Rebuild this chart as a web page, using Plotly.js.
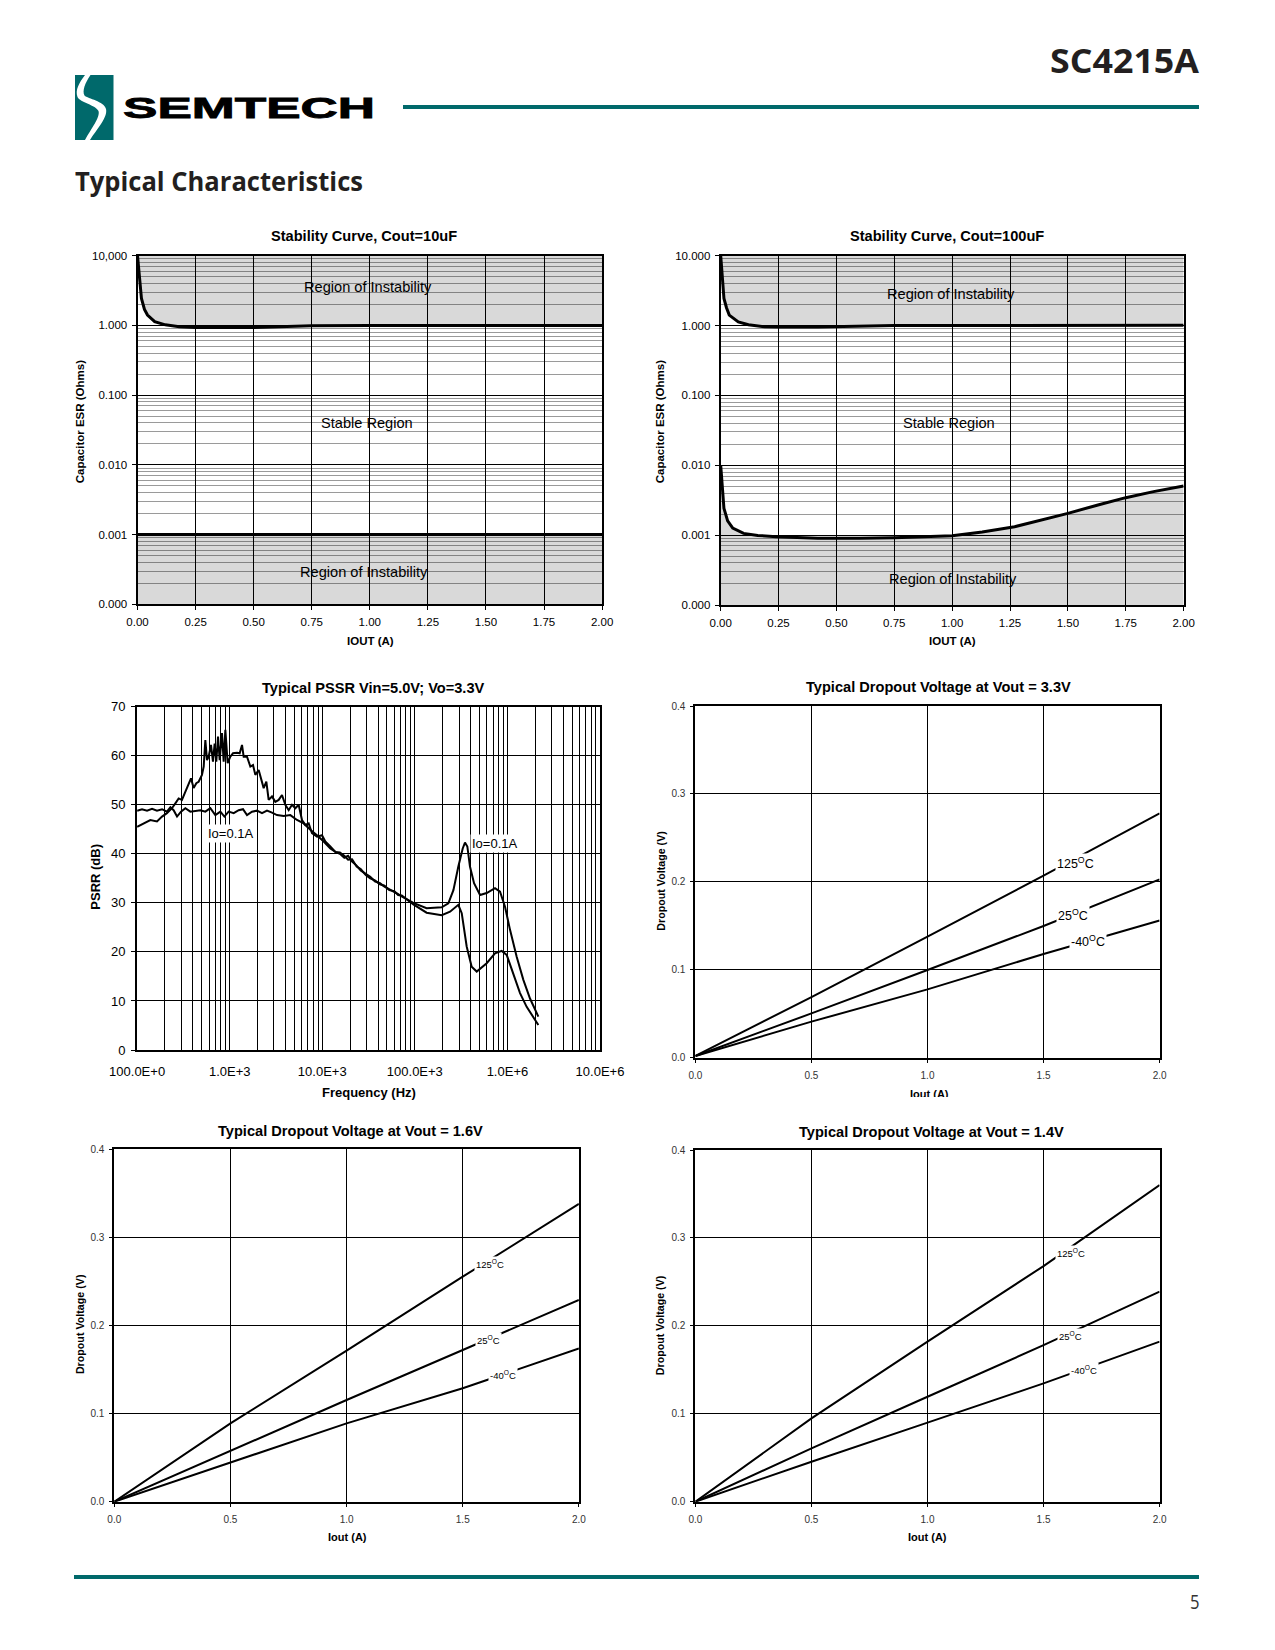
<!DOCTYPE html>
<html><head><meta charset="utf-8">
<script src="https://cdn.plot.ly/plotly-3.0.1.min.js"></script>
<style>
html,body{margin:0;padding:0;background:#fff;}
#page{position:relative;width:1275px;height:1650px;overflow:hidden;background:#fff;}
#chart{position:absolute;left:0;top:0;width:1275px;height:1650px;z-index:1;}
.hdr{position:absolute;white-space:nowrap;transform-origin:0 0;line-height:1;z-index:3;}
.bar{position:absolute;background:#00696b;z-index:3;}
#logo{position:absolute;left:75px;top:75px;z-index:3;}
#clip{position:absolute;left:880px;top:1096.5px;width:100px;height:14px;background:#fff;z-index:2;}
</style></head>
<body><div id="page">
<div id="chart"></div>
<svg id="logo" width="39" height="65" viewBox="0 0 39 65">
  <rect x="0" y="0" width="38.5" height="65" fill="#00696b"/>
  <path d="M10,0 C4,8 0,15 2.5,22 C5,27.5 21,30 23.5,36 C25.5,42 16,54 10,65 L15,65 C22,54 33,42 31,34 C29,26 13,24 9.5,20.5 C7,16 10,8 15.5,0 Z" fill="#fff"/>
</svg>
<div class="hdr" id="semtech" style="font-family:'Liberation Sans',Arial,sans-serif;font-weight:bold;font-size:30px;color:#000;-webkit-text-stroke:0.8px #000;">SEMTECH</div>
<div class="hdr" id="partno" style="font-family:'Open Sans',sans-serif;font-weight:bold;font-size:34px;color:#231f20;">SC4215A</div>
<div class="hdr" id="section" style="font-family:'Open Sans',sans-serif;font-weight:bold;font-size:27px;color:#231f20;">Typical Characteristics</div>
<div class="hdr" id="pageno" style="font-family:'Open Sans',sans-serif;font-size:19.5px;color:#333;">5</div>
<div class="bar" style="left:403px;top:105px;width:796px;height:4px;"></div>
<div class="bar" style="left:74px;top:1575px;width:1125px;height:4px;"></div>
<div id="clip"></div>
</div>
<script>
// ---------------- DATA ----------------
// Stability curve, Cout = 10uF
const iout10Upper = [0, 0.008, 0.017, 0.03, 0.043, 0.074, 0.12, 0.18, 0.25, 0.5, 0.75, 1.0, 1.5, 2.0];
const esr10Upper  = [10, 5, 2.44, 1.7, 1.41, 1.13, 1.02, 0.96, 0.93, 0.93, 0.99, 1.0, 1.0, 1.0];
const iout10Lower = [0, 2.0];
const esr10Lower  = [0.001, 0.001];
// Stability curve, Cout = 100uF
const iout100Upper = [0, 0.007, 0.014, 0.025, 0.037, 0.076, 0.12, 0.19, 0.25, 0.42, 0.6, 0.75, 1.0, 1.5, 2.0];
const esr100Upper  = [10, 5, 2.45, 1.8, 1.41, 1.13, 1.03, 0.96, 0.95, 0.95, 0.97, 1.0, 1.0, 1.01, 1.01];
const iout100Lower = [0, 0.007, 0.014, 0.03, 0.052, 0.099, 0.16, 0.24, 0.42, 0.6, 0.75, 1.0, 1.13, 1.27, 1.5, 1.63, 1.75, 1.87, 2.0];
const esr100Lower  = [0.01, 0.0045, 0.00242, 0.0016, 0.00126, 0.00106, 0.00099, 0.00095, 0.0009, 0.0009, 0.00092, 0.00098, 0.00111, 0.00132, 0.00205, 0.0027, 0.00344, 0.0042, 0.00505];
const esrTickVals = [1e-4, 1e-3, 1e-2, 1e-1, 1, 10];
const esrTickText10  = ['0.000', '0.001', '0.010', '0.100', '1.000', '10,000'];
const esrTickText100 = ['0.000', '0.001', '0.010', '0.100', '1.000', '10.000'];

// PSSR, Vin=5.0V, Vo=3.3V
const pssrFreqA = [100,118,139,164,186,210,238,259,281,305,332,361,382,408,436,462,502,524,546,569,593,628,660,688,717,748,780,826,861,898,951,1016,1086,1200,1282,1359,1416,1539,1672,1786,1893,2057,2180,2329,2488,2637,2865,3112,3383,3674,3992,4338,4711,5118,5560,6040,6563,7132,7747,8772,9933,10792,12223,13847,
  15500,17300,19000,21000,23500,26000,29500,33000,37000,42000,47000,53000,60000,66000,72100,
  96300,134000,195000,230000,261000,295000,329000,348000,369000,394000,436000,506000,597000,734000,832000,942000,1067000,1259000,1486000,1754000,2158000];
const pssrDbA = [45.5,46.2,46.9,46.6,47.6,48.3,49.3,50.3,51.3,51.0,52.7,54.0,55.4,53.4,54.4,54.7,56.1,57.8,63.2,59.1,59.8,62.2,58.8,62.5,58.8,63.9,59.1,64.6,58.8,65.3,58.5,59.8,60.5,60.6,60.5,62.2,59.8,59.8,57.8,58.1,56.1,57.1,55.1,53.4,54.7,51.0,51.7,50.6,51.0,52.0,50.0,48.9,50.0,49.3,50.0,46.9,45.9,46.2,44.2,43.5,43.8,42.5,41.5,40.4,
  40.0,39.2,39.6,38.4,37.6,36.6,35.9,35.3,34.4,34.0,33.3,32.8,32.2,31.8,31.3,
  30.0,28.9,29.1,29.9,32.6,37.4,41.1,42.3,41.5,37.4,34.0,31.6,32.0,33.0,32.3,29.2,24.5,19.0,14.3,10.5,6.8];
const pssrFreqB = [100,113,128,145,164,186,210,229,248,270,298,332,376,426,482,546,618,700,793,876,975,1105,1251,1393,1539,1742,1973,2234,2530,2865,3244,3830,4520,5336,6298,7432,8772,10357,12223,13847,
  15500,17300,19000,21000,23500,26000,29500,33000,37000,42000,47000,53000,60000,66000,72100,
  96300,134000,195000,240000,295000,321000,363000,411000,466000,597000,734000,867000,982000,1159000,1368000,1614000,2158000];
const pssrDbB = [48.8,49.1,48.8,49.2,48.8,49.1,48.6,49.5,48.9,47.6,48.6,49.3,48.6,48.8,48.9,48.6,49.3,47.9,48.6,47.6,48.6,48.3,48.9,49.1,47.9,48.6,48.8,48.3,48.8,48.4,47.9,47.7,47.9,46.9,46.2,44.9,43.8,42.5,41.1,40.4,
  40.3,39.6,38.8,38.9,37.4,36.9,35.7,35.0,34.6,33.8,33.5,32.6,32.4,31.6,31.5,
  29.7,28.0,27.5,28.2,29.6,27.9,21.1,17.0,16.0,17.7,19.7,20.2,19.4,15.6,11.6,8.8,5.1];
const freqTickVals = [1e2, 1e3, 1e4, 1e5, 1e6, 1e7];
const freqTickText = ['100.0E+0', '1.0E+3', '10.0E+3', '100.0E+3', '1.0E+6', '10.0E+6'];

// Dropout voltage
const ioutDrop = [0, 0.5, 1.0, 1.5, 2.0];
const tempLabels = ['125<sup>O</sup>C', '25<sup>O</sup>C', '-40<sup>O</sup>C'];
const drop33 = [[0.002, 0.069, 0.1376, 0.207, 0.278], [0.002, 0.0504, 0.0997, 0.1498, 0.2028], [0.002, 0.041, 0.0777, 0.118, 0.156]];
const drop16 = [[0, 0.0889, 0.1714, 0.2554, 0.338], [0, 0.0579, 0.1154, 0.1722, 0.229], [0, 0.0443, 0.0889, 0.1287, 0.174]];
const drop14 = [[0, 0.0948, 0.182, 0.268, 0.360], [0, 0.0607, 0.1194, 0.178, 0.239], [0, 0.0455, 0.0899, 0.1346, 0.182]];

// ---------------- LAYOUT HELPERS ----------------
const W = 1275, H = 1650;
const PX = x => x / W;
const PY = y => 1 - y / H;
const FONT = "'Liberation Sans', Arial, sans-serif";
const SHADE = 'rgba(0,0,0,0.15)';
const ESR_TOP = 10, ESR_BOT = 1e-4;

const minorEsr = [];
for (let k = -4; k <= 0; k++) for (let m = 2; m <= 9; m++) minorEsr.push(m * Math.pow(10, k));
const freqMinor = [];
for (let k = 2; k <= 6; k++) for (let m = 2; m <= 9; m++) freqMinor.push(m * Math.pow(10, k));

const traces = [];
function stabilityTraces(ax, xu, yu, xl, yl) {
  traces.push({x: xu.concat([2, 0]), y: yu.concat([ESR_TOP, ESR_TOP]), xaxis: 'x' + ax, yaxis: 'y' + ax, mode: 'lines', fill: 'toself', fillcolor: SHADE, line: {width: 0}, hoverinfo: 'skip'});
  traces.push({x: xl.concat([2, 0]), y: yl.concat([ESR_BOT, ESR_BOT]), xaxis: 'x' + ax, yaxis: 'y' + ax, mode: 'lines', fill: 'toself', fillcolor: SHADE, line: {width: 0}, hoverinfo: 'skip'});
  traces.push({x: xu, y: yu, xaxis: 'x' + ax, yaxis: 'y' + ax, mode: 'lines', line: {color: '#000', width: 3}});
  traces.push({x: xl, y: yl, xaxis: 'x' + ax, yaxis: 'y' + ax, mode: 'lines', line: {color: '#000', width: 3}});
}
stabilityTraces('', iout10Upper, esr10Upper, iout10Lower, esr10Lower);
stabilityTraces('2', iout100Upper, esr100Upper, iout100Lower, esr100Lower);
traces.push({x: pssrFreqA, y: pssrDbA, xaxis: 'x3', yaxis: 'y3', mode: 'lines', line: {color: '#000', width: 2}});
traces.push({x: pssrFreqB, y: pssrDbB, xaxis: 'x3', yaxis: 'y3', mode: 'lines', line: {color: '#000', width: 2}});
[[drop33, '4'], [drop16, '5'], [drop14, '6']].forEach(([set, ax]) => {
  set.forEach(v => traces.push({x: ioutDrop, y: v, xaxis: 'x' + ax, yaxis: 'y' + ax, mode: 'lines', line: {color: '#000', width: 2}}));
});

// axis domains (pixel boxes)
const boxes = {
  1: {l: 137.5, r: 602.1, t: 255.7, b: 604.3},
  2: {l: 720.7, r: 1183.6, t: 255.7, b: 605},
  3: {l: 137.1, r: 600, t: 706.7, b: 1050},
  4: {l: 695.4, r: 1159.6, t: 706, b: 1057.7},
  5: {l: 114.3, r: 578.9, t: 1149.3, b: 1501.7},
  6: {l: 695.4, r: 1159.6, t: 1150, b: 1501.7}
};
const dom = n => ({x: [PX(boxes[n].l), PX(boxes[n].r)], y: [PY(boxes[n].b), PY(boxes[n].t)]});

const baseAxis = {showline: true, linecolor: '#000', linewidth: 2, mirror: true, showgrid: true, gridcolor: '#000', gridwidth: 1, zeroline: false, automargin: false, fixedrange: true};

const layout = {
  width: W, height: H, margin: {l: 0, r: 0, t: 0, b: 0},
  paper_bgcolor: 'rgba(0,0,0,0)', plot_bgcolor: '#fff', showlegend: false,
  font: {family: FONT, color: '#000'},
  annotations: []
};
function esrAxes(n, ticktext) {
  const s = n === 1 ? '' : String(n);
  layout['xaxis' + s] = Object.assign({}, baseAxis, {domain: dom(n).x, anchor: 'y' + s, range: [0, 2], dtick: 0.25, tick0: 0, tickformat: '.2f', ticks: 'outside', ticklen: 4, tickcolor: '#000', tickfont: {size: 11.5, family: FONT}, ticklabelstandoff: 2});
  layout['yaxis' + s] = Object.assign({}, baseAxis, {domain: dom(n).y, anchor: 'x' + s, type: 'log', range: [-4, 1], tickmode: 'array', tickvals: esrTickVals, ticktext: ticktext, ticks: 'outside', ticklen: 4, tickcolor: '#000', tickfont: {size: 11.5, family: FONT}, ticklabelstandoff: 2,
    minor: {tickmode: 'array', tickvals: minorEsr, showgrid: true, gridcolor: '#9a9a9a', gridwidth: 1, ticks: ''}});
}
esrAxes(1, esrTickText10);
esrAxes(2, esrTickText100);
layout.xaxis3 = Object.assign({}, baseAxis, {domain: dom(3).x, anchor: 'y3', type: 'log', range: [2, 7], tickmode: 'array', tickvals: freqTickVals, ticktext: freqTickText, ticks: '', tickfont: {size: 13, family: FONT}, ticklabelstandoff: 8,
  minor: {tickmode: 'array', tickvals: freqMinor, showgrid: true, gridcolor: '#000', gridwidth: 1, ticks: ''}});
layout.yaxis3 = Object.assign({}, baseAxis, {domain: dom(3).y, anchor: 'x3', range: [0, 70], dtick: 10, tick0: 0, ticks: 'outside', ticklen: 4, tickcolor: '#000', tickfont: {size: 13, family: FONT}, ticklabelstandoff: 3});
[4, 5, 6].forEach(n => {
  const s = String(n);
  layout['xaxis' + s] = Object.assign({}, baseAxis, {domain: dom(n).x, anchor: 'y' + s, range: [0, 2], dtick: 0.5, tick0: 0, tickformat: '.1f', ticks: 'outside', ticklen: 3, tickcolor: '#000', tickfont: {size: 10, family: FONT, color: '#333'}, ticklabelstandoff: 4});
  layout['yaxis' + s] = Object.assign({}, baseAxis, {domain: dom(n).y, anchor: 'x' + s, range: [0, 0.4], dtick: 0.1, tick0: 0, tickformat: '.1f', ticks: 'outside', ticklen: 3, tickcolor: '#000', tickfont: {size: 10, family: FONT, color: '#333'}, ticklabelstandoff: 3});
});

function note(text, x, y, size, extra) {
  layout.annotations.push(Object.assign({xref: 'paper', yref: 'paper', x: PX(x), y: PY(y), text: text, showarrow: false, xanchor: 'center', yanchor: 'middle', font: {family: FONT, size: size, color: '#000'}}, extra || {}));
}
// chart titles
note('<b>Stability Curve, Cout=10uF</b>', 363.6, 235.7, 14.6);
note('<b>Stability Curve, Cout=100uF</b>', 947, 235.7, 14.6);
note('<b>Typical PSSR Vin=5.0V; Vo=3.3V</b>', 373.6, 688.3, 14.6);
note('<b>Typical Dropout Voltage at Vout = 3.3V</b>', 938.2, 686.7, 14.6);
note('<b>Typical Dropout Voltage at Vout = 1.6V</b>', 351, 1130.7, 14.6);
note('<b>Typical Dropout Voltage at Vout = 1.4V</b>', 931, 1131.7, 14.6);
// axis titles
note('<b>IOUT (A)</b>', 370, 641, 11.5);
note('<b>IOUT (A)</b>', 952.5, 641, 11.5);
note('<b>Capacitor ESR (Ohms)</b>', 79.6, 421.7, 11.5, {textangle: -90});
note('<b>Capacitor ESR (Ohms)</b>', 659.6, 421.7, 11.5, {textangle: -90});
note('<b>Frequency (Hz)</b>', 368.6, 1092.7, 13);
note('<b>PSRR (dB)</b>', 96, 876.7, 13, {textangle: -90});
note('<b>Iout (A)</b>', 929, 1093.5, 11);
note('<b>Dropout Voltage (V)</b>', 660.7, 881, 10.7, {textangle: -90});
note('<b>Iout (A)</b>', 347.5, 1536.7, 11);
note('<b>Dropout Voltage (V)</b>', 79.6, 1324.5, 10.7, {textangle: -90});
note('<b>Iout (A)</b>', 927.5, 1536.7, 11);
note('<b>Dropout Voltage (V)</b>', 659.6, 1325.6, 10.7, {textangle: -90});
// region labels
note('Region of Instability', 367.9, 287.3, 14.6);
note('Stable Region', 367, 423.3, 14.6);
note('Region of Instability', 363.6, 571.7, 14.6);
note('Region of Instability', 950.7, 294, 14.6);
note('Stable Region', 949, 423.3, 14.6);
note('Region of Instability', 952.5, 579.3, 14.6);
// PSSR labels
note('Io=0.1A', 231.2, 833.3, 13, {bgcolor: '#fff', borderpad: 1});
note('Io=0.1A', 495, 843.3, 13, {bgcolor: '#fff', borderpad: 1});
// temperature labels (data coordinates on their own axes)
function tempNote(ax, i, x, y, size) {
  layout.annotations.push({xref: 'x' + ax, yref: 'y' + ax, x: x, y: y, text: tempLabels[i], showarrow: false, xanchor: 'center', yanchor: 'middle', bgcolor: '#fff', borderpad: 1, font: {family: FONT, size: size, color: '#000'}});
}
tempNote('4', 0, 1.639, 0.2218, 12.5); tempNote('4', 1, 1.628, 0.1623, 12.5); tempNote('4', 2, 1.692, 0.1327, 12.5);
tempNote('5', 0, 1.619, 0.2695, 9.5); tempNote('5', 1, 1.611, 0.1835, 9.5); tempNote('5', 2, 1.673, 0.1438, 9.5);
tempNote('6', 0, 1.618, 0.2834, 9.5); tempNote('6', 1, 1.616, 0.1889, 9.5); tempNote('6', 2, 1.674, 0.1498, 9.5);

Plotly.newPlot('chart', traces, layout, {staticPlot: true, displayModeBar: false});

// ---------------- HEADER TEXT FITTING ----------------
function fit(id, o) {
  const el = document.getElementById(id);
  el.style.transform = 'none';
  const w = el.getBoundingClientRect().width;
  const s = o.width / w;
  el.style.transform = 'scaleX(' + s + ')';
  el.style.left = (o.right != null ? o.right - o.width : o.left) + 'px';
  el.style.top = o.top + 'px';
}
function fitAll() {
  fit('semtech', {left: 123.3, width: 252, top: 118.3 - 0.8465 * 30});
  fit('partno', {right: 1199, width: 149, top: 72.7 - 0.888 * 34});
  fit('section', {left: 75, width: 288, top: 191 - 0.888 * 27});
  fit('pageno', {right: 1199, width: 9.5, top: 1609.3 - 0.888 * 19.5});
}
fitAll();
if (document.fonts && document.fonts.ready) document.fonts.ready.then(fitAll);
</script>
</body></html>
